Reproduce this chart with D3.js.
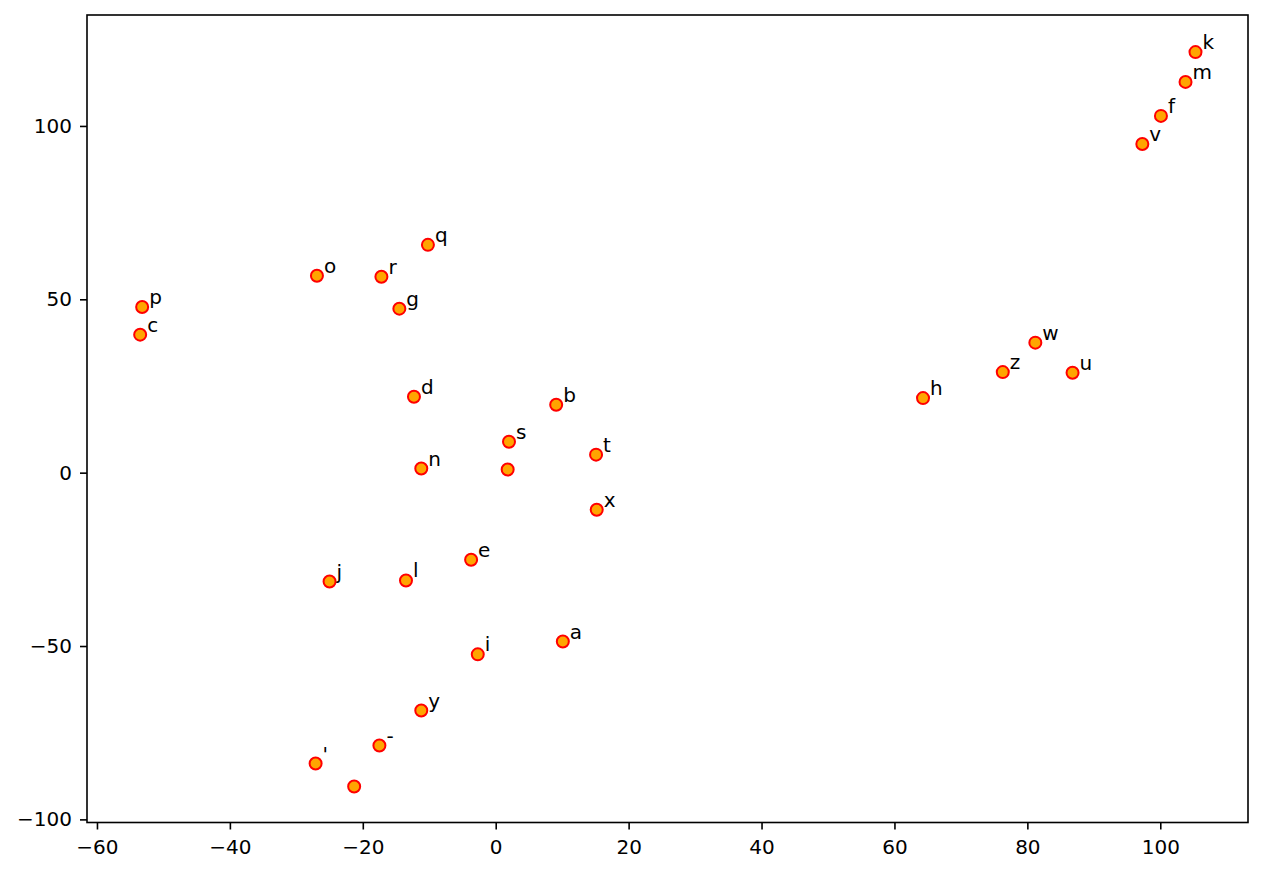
<!DOCTYPE html>
<html>
<head>
<meta charset="utf-8">
<script src="https://cdn.jsdelivr.net/npm/d3@7"></script>
<style>
  body { margin: 0; background: #fff; }
  text { font-family: "DejaVu Sans", sans-serif; }
</style>
</head>
<body>
<svg id="chart" width="1264" height="873"></svg>
<script>
const labels = ["k", "m", "f", "v", "q", "o", "r", "g", "p", "c", "d", "b", "s", " ", "t", "n", "x",
    "h", "z", "w", "u", "e", "j", "l", "a", "i", "y", "-", "'", " "]
const xs = [105.3, 103.8, 100.1, 97.3, -10.2, -26.9, -17.2, -14.5, -53.2, -53.5, -12.3, 9.1, 2.0, 1.8, 15.1, -11.2, 15.2,
    64.3, 76.3, 81.2, 86.8, -3.7, -25.0, -13.5, 10.1, -2.7, -11.2, -17.5, -27.1, -21.3]
const ys = [121.3, 112.7, 102.9, 94.8, 65.7, 56.8, 56.5, 47.3, 47.8, 39.8, 21.9, 19.6, 8.9, 0.9, 5.2, 1.2, -10.7,
    21.5, 29.0, 37.5, 28.8, -25.1, -31.4, -31.1, -48.7, -52.4, -68.6, -78.7, -83.9, -90.5]
const xTicks = [-60, -40, -20, 0, 20, 40, 60, 80, 100]
const yTicks = [-100, -50, 0, 50, 100]

const points = labels.map(function(d, i){
    return {label: d, x: xs[i], y: ys[i]}
})

const mLeft = 87, mRight = 1248, mTop = 15, mBottom = 822.5
const svg = d3.select('#chart')

const x = d3.scaleLinear().domain([-61.5, 113.2]).range([mLeft, mRight])
const y = d3.scaleLinear().domain([-100.9, 132.0]).range([mBottom, mTop])

const fmt = function(d){ return String(d).replace('-', '\u2212') }

const xAxis = svg.append('g')
    .attr('transform', 'translate(0,' + mBottom + ')')
    .call(d3.axisBottom(x).tickValues(xTicks).tickFormat(fmt).tickSize(7).tickPadding(10))
const yAxis = svg.append('g')
    .attr('transform', 'translate(' + mLeft + ',0)')
    .call(d3.axisLeft(y).tickValues(yTicks).tickFormat(fmt).tickSize(7).tickPadding(8))

for (const g of [xAxis, yAxis]) {
    g.select('.domain').remove()
    g.selectAll('line').attr('stroke', '#000').attr('stroke-width', 1.6)
    g.selectAll('text').attr('font-size', 20).attr('fill', '#000')
        .style('font-family', '"DejaVu Sans", sans-serif')
}

svg.append('rect')
    .attr('x', mLeft).attr('y', mTop)
    .attr('width', mRight - mLeft).attr('height', mBottom - mTop)
    .attr('fill', 'none').attr('stroke', '#000').attr('stroke-width', 1.6)

svg.append('g')
    .selectAll('circle')
    .data(points)
    .join('circle')
    .attr('cx', function(d){ return x(d.x) })
    .attr('cy', function(d){ return y(d.y) })
    .attr('r', 6)
    .attr('fill', 'orange')
    .attr('stroke', 'red')
    .attr('stroke-width', 2)

svg.append('g')
    .selectAll('text')
    .data(points)
    .join('text')
    .attr('x', function(d){ return x(d.x) + 7 })
    .attr('y', function(d){ return y(d.y) - 3 })
    .attr('font-size', 20)
    .attr('fill', '#000')
    .text(function(d){ return d.label })
</script>
</body>
</html>
